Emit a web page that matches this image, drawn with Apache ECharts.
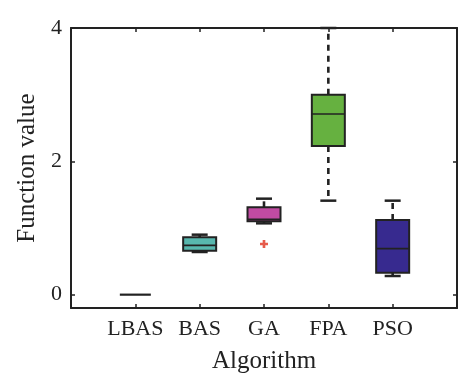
<!DOCTYPE html>
<html>
<head>
<meta charset="utf-8">
<script src="https://cdn.jsdelivr.net/npm/echarts@6/dist/echarts.min.js"></script>
<style>
html,body{margin:0;padding:0;background:#fff;}
#chart{width:474px;height:392px;}
</style>
</head>
<body>
<div id="chart"></div>
<script>
var categories = ['LBAS', 'BAS', 'GA', 'FPA', 'PSO'];
var minVals    = [0, 0.64, 1.07, 1.41, 0.28];
var q1Vals     = [0, 0.66, 1.10, 2.23, 0.33];
var medianVals = [0, 0.74, 1.13, 2.71, 0.69];
var q3Vals     = [0, 0.86, 1.31, 3.00, 1.12];
var maxVals    = [0, 0.90, 1.44, 4.00, 1.41];
var boxColors  = ['#ffffff', '#58b7ae', '#c14ba2', '#66b140', '#372a8f'];
var outlierCats = ['GA'];
var outlierVals = [0.76];
var yTicks = [0, 2, 4];

var axisCats = [''].concat(categories).concat(['']);
var FONT = '"Liberation Serif", "Times New Roman", serif';
var TXT = '#222';

var boxData = categories.map(function (c, i) {
  return [i + 1, minVals[i], q1Vals[i], medianVals[i], q3Vals[i], maxVals[i]];
});
var outlierData = outlierCats.map(function (c, i) {
  return [categories.indexOf(c) + 1, outlierVals[i]];
});

function renderBox(params, api) {
  var idx = api.value(0);
  var vMin = api.value(1), vQ1 = api.value(2), vMed = api.value(3), vQ3 = api.value(4), vMax = api.value(5);
  var pMin = api.coord([idx, vMin]);
  var pQ1 = api.coord([idx, vQ1]);
  var pMed = api.coord([idx, vMed]);
  var pQ3 = api.coord([idx, vQ3]);
  var pMax = api.coord([idx, vMax]);
  var x = pMed[0];
  var bw = 33, cw = 16;
  var stroke = '#222';
  var color = boxColors[params.dataIndex];
  var children = [];
  if (vMax > vQ3) {
    children.push({type: 'line', shape: {x1: x, y1: pQ3[1], x2: x, y2: pMax[1]},
      style: {stroke: stroke, lineWidth: 2.6, lineDash: [6, 5]}});
    children.push({type: 'line', shape: {x1: x - cw / 2, y1: pMax[1], x2: x + cw / 2, y2: pMax[1]},
      style: {stroke: stroke, lineWidth: 2.5}});
  }
  if (vMin < vQ1) {
    children.push({type: 'line', shape: {x1: x, y1: pQ1[1], x2: x, y2: pMin[1]},
      style: {stroke: stroke, lineWidth: 2.6, lineDash: [6, 5]}});
    children.push({type: 'line', shape: {x1: x - cw / 2, y1: pMin[1], x2: x + cw / 2, y2: pMin[1]},
      style: {stroke: stroke, lineWidth: 2.5}});
  }
  if (vQ3 > vQ1) {
    children.push({type: 'rect', shape: {x: x - bw / 2, y: pQ3[1], width: bw, height: pQ1[1] - pQ3[1]},
      style: {fill: color, stroke: stroke, lineWidth: 2}});
    children.push({type: 'line', shape: {x1: x - bw / 2, y1: pMed[1], x2: x + bw / 2, y2: pMed[1]},
      style: {stroke: stroke, lineWidth: 1.6}});
  } else {
    children.push({type: 'line', shape: {x1: x - 15.5, y1: pMed[1], x2: x + 15.5, y2: pMed[1]},
      style: {stroke: stroke, lineWidth: 2.2}});
  }
  return {type: 'group', children: children};
}

var chart = echarts.init(document.getElementById('chart'));
chart.setOption({
  backgroundColor: '#ffffff',
  animation: false,
  grid: {left: 71, right: 17, top: 28, bottom: 84},
  xAxis: [{
    type: 'category', data: axisCats, boundaryGap: false, position: 'bottom',
    name: 'Algorithm', nameLocation: 'middle', nameGap: 41,
    nameTextStyle: {fontFamily: FONT, fontSize: 25, color: TXT},
    axisLine: {show: true, onZero: false, lineStyle: {color: '#222', width: 2}},
    axisTick: {show: true, inside: true, length: 4, lineStyle: {color: '#222', width: 1.5}},
    axisLabel: {fontFamily: FONT, fontSize: 22, color: TXT, margin: 10, interval: 0},
    splitLine: {show: false}
  }, {
    type: 'category', data: axisCats, boundaryGap: false, position: 'top',
    axisLine: {show: true, onZero: false, lineStyle: {color: '#222', width: 2}},
    axisTick: {show: true, inside: true, length: 4, lineStyle: {color: '#222', width: 1.5}},
    axisLabel: {show: false}, splitLine: {show: false}
  }],
  yAxis: [{
    type: 'value', min: -0.2, max: 4, position: 'left',
    name: 'Function value', nameLocation: 'middle', nameGap: 31,
    nameTextStyle: {fontFamily: FONT, fontSize: 25, color: TXT},
    axisLine: {show: true, onZero: false, lineStyle: {color: '#222', width: 2}},
    axisTick: {show: true, inside: true, length: 4, customValues: yTicks, lineStyle: {color: '#222', width: 1.5}},
    axisLabel: {fontFamily: FONT, fontSize: 22, color: TXT, margin: 9, customValues: yTicks},
    splitLine: {show: false}
  }, {
    type: 'value', min: -0.2, max: 4, position: 'right',
    axisLine: {show: true, onZero: false, lineStyle: {color: '#222', width: 2}},
    axisTick: {show: true, inside: true, length: 4, customValues: yTicks, lineStyle: {color: '#222', width: 1.5}},
    axisLabel: {show: false}, splitLine: {show: false}
  }],
  series: [{
    type: 'custom', xAxisIndex: 0, yAxisIndex: 0,
    renderItem: renderBox, data: boxData, encode: {x: 0, y: [1, 2, 3, 4, 5]}
  }, {
    type: 'scatter', xAxisIndex: 0, yAxisIndex: 0,
    symbol: 'path://M2,0H4V2H6V4H4V6H2V4H0V2H2Z', symbolSize: 8,
    itemStyle: {color: '#e0321e'}, data: outlierData
  }]
});
</script>
</body>
</html>
